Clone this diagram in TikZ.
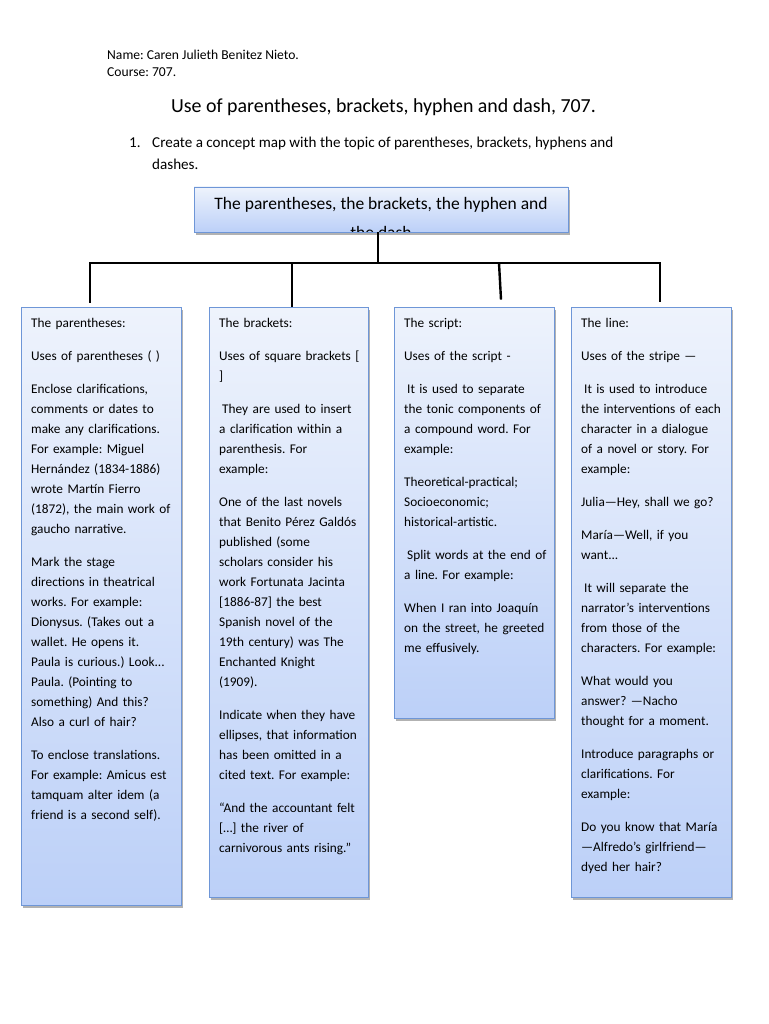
\documentclass[tikz,border=0pt]{standalone}
\usepackage{fontspec}
\setmainfont{Carlito}
\usetikzlibrary{shadows}
\frenchspacing
\definecolor{boxtop}{RGB}{238,243,252}
\definecolor{boxbot}{RGB}{188,208,248}
\definecolor{boxline}{RGB}{110,150,215}
\tikzset{
  cbox/.style={rectangle, draw=boxline, line width=0.9pt, top color=boxtop, bottom color=boxbot,
    inner sep=0pt, drop shadow={shadow xshift=1.5pt, shadow yshift=-3pt, opacity=0.3, fill=black}},
  btxt/.style={anchor=north west, inner sep=0pt, text width=170pt, align=left,
    font=\fontsize{13.3}{20}\selectfont},
  plain/.style={anchor=base west, inner sep=0pt, font=\fontsize{13.6}{16}\selectfont},
  task/.style={anchor=base west, inner sep=0pt, font=\fontsize{15.1}{18}\selectfont},
  conn/.style={draw=black, line width=2.4pt}
}
\begin{document}
\frenchspacing
\begin{tikzpicture}[x=1pt,y=-1pt]
\useasboundingbox (0,0) rectangle (768,1024);
\fill[white] (0,0) rectangle (768,1024);

% header
\node[plain] (name) at (107,60) {Name: Caren Julieth Benitez Nieto.};
\node[plain] (course) at (107,77) {Course: 707.};
\node[anchor=base, inner sep=0pt, font=\fontsize{19.9}{24}\selectfont] (title) at (383.5,113)
  {Use of parentheses, brackets, hyphen and dash, 707.};
\node[task] (num) at (129,148) {1.};
\node[task] (task1) at (152,148) {Create a concept map with the topic of parentheses, brackets, hyphens and};
\node[task] (task2) at (152,170) {dashes.};

% top box
\node[cbox, minimum width=374pt, minimum height=45pt] (top) at (381,209.5) {};
\begin{scope}
  \clip (194.5,187.5) rectangle (567.5,231.5);
  \node[anchor=base, inner sep=0pt, font=\fontsize{17.5}{25}\selectfont] (toptxt1) at (381,210)
    {The parentheses, the brackets, the hyphen and};
  \node[anchor=base, inner sep=0pt, font=\fontsize{17.5}{25}\selectfont] (toptxt2) at (381,238.5)
    {the dash};
\end{scope}

% boxes
\node[cbox, minimum width=160pt, minimum height=598pt] (b1) at (101,606) {};
\node[cbox, minimum width=159pt, minimum height=590pt] (b2) at (288.5,602) {};
\node[cbox, minimum width=160pt, minimum height=411pt] (b3) at (474,512.5) {};
\node[cbox, minimum width=160pt, minimum height=590pt] (b4) at (651,602) {};

% connectors
\coordinate (bus) at (378,263);
\coordinate (cl) at (90,263);
\coordinate (cr) at (660,263);
\coordinate (c2) at (292,263);
\coordinate (c3) at (499,263);
\draw[conn] ([xshift=-3pt]top.south) -- (bus);
\draw[conn] ([xshift=-11pt,yshift=4pt]b1.north) -- (cl) -- (cr) -- ([xshift=9pt,yshift=5pt]b4.north);
\draw[conn] (c2) -- ([xshift=3.5pt]b2.north);
\draw[conn] (c3) -- ([xshift=27pt,yshift=7pt]b3.north);

% box texts
\node[btxt] (t1) at (31,313) {\strut The parentheses:\\[13pt]
Uses of parentheses ( )\\[13pt]
Enclose clarifications,\\
comments or dates to\\
make any clarifications.\\
For example: Miguel\\
Hernández (1834-1886)\\
wrote Martín Fierro\\
(1872), the main work of\\
gaucho narrative.\\[13pt]
Mark the stage\\
directions in theatrical\\
works. For example:\\
Dionysus. (Takes out a\\
wallet. He opens it.\\
Paula is curious.) Look...\\
Paula. (Pointing to\\
something) And this?\\
Also a curl of hair?\\[13pt]
To enclose translations.\\
For example: Amicus est\\
tamquam alter idem (a\\
friend is a second self).};

\node[btxt] (t2) at (219,313) {\strut The brackets:\\[13pt]
Uses of square brackets [\\
]\\[13pt]
\hspace*{3pt}They are used to insert\\
a clarification within a\\
parenthesis. For\\
example:\\[13pt]
One of the last novels\\
that Benito Pérez Galdós\\
published (some\\
scholars consider his\\
work Fortunata Jacinta\\
{[}1886-87] the best\\
Spanish novel of the\\
19th century) was The\\
Enchanted Knight\\
(1909).\\[13pt]
Indicate when they have\\
ellipses, that information\\
has been omitted in a\\
cited text. For example:\\[13pt]
“And the accountant felt\\
{[}…] the river of\\
carnivorous ants rising.”};

\node[btxt] (t3) at (404,313) {\strut The script:\\[13pt]
Uses of the script -\\[13pt]
\hspace*{3pt}It is used to separate\\
the tonic components of\\
a compound word. For\\
example:\\[13pt]
Theoretical-practical;\\
Socioeconomic;\\
historical-artistic.\\[13pt]
\hspace*{3pt}Split words at the end of\\
a line. For example:\\[13pt]
When I ran into Joaquín\\
on the street, he greeted\\
me effusively.};

\node[btxt] (t4) at (581,313) {\strut The line:\\[13pt]
Uses of the stripe —\\[13pt]
\hspace*{3pt}It is used to introduce\\
the interventions of each\\
character in a dialogue\\
of a novel or story. For\\
example:\\[13pt]
Julia—Hey, shall we go?\\[13pt]
María—Well, if you\\
want...\\[13pt]
\hspace*{3pt}It will separate the\\
narrator's interventions\\
from those of the\\
characters. For example:\\[13pt]
What would you\\
answer? —Nacho\\
thought for a moment.\\[13pt]
Introduce paragraphs or\\
clarifications. For\\
example:\\[13pt]
Do you know that María\\
—Alfredo's girlfriend—\\
dyed her hair?};
\end{tikzpicture}
\end{document}
